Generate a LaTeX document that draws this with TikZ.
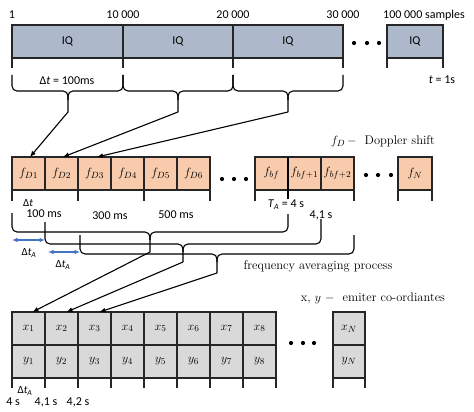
\documentclass[tikz,border=0pt]{standalone}
\usepackage{fontspec}
\setsansfont{Carlito}
\usetikzlibrary{arrows.meta,calc}
\definecolor{iqfill}{HTML}{ADB9CA}
\definecolor{fdfill}{HTML}{F8CBAD}
\definecolor{xyfill}{HTML}{D9D9D9}
\definecolor{lineclr}{HTML}{262626}
\definecolor{blueA}{HTML}{4472C4}
\begin{document}
\begin{tikzpicture}[x=1pt,y=-1pt,
  box/.style={draw=lineclr, line width=1.1pt, inner sep=0pt, outer sep=0pt, anchor=north west},
  iqbox/.style={box, fill=iqfill, minimum height=33pt, font=\sffamily\fontsize{12}{14}\selectfont},
  fdbox/.style={box, fill=fdfill, minimum width=33pt, minimum height=33pt, font=\fontsize{13}{15}\selectfont},
  xybox/.style={box, fill=xyfill, minimum width=33pt, minimum height=33pt, font=\fontsize{13}{15}\selectfont},
  lbl/.style={inner sep=0pt, font=\sffamily\fontsize{12}{14}\selectfont},
  smlbl/.style={inner sep=0pt, font=\sffamily\fontsize{11}{13}\selectfont},
  slbl/.style={inner sep=0pt, font=\fontsize{12.5}{14}\selectfont},
  tick/.style={draw=lineclr, line width=1.1pt},
  brc/.style={draw=black, line width=1.1pt, rounded corners=5pt},
  conn/.style={draw=black, line width=1.1pt, -{Latex[length=6pt,width=5pt]}},
  dimarrow/.style={draw=blueA, line width=1.3pt, {Latex[length=5.5pt,width=4.5pt]}-{Latex[length=5.5pt,width=4.5pt]}},
  bdot/.style={fill=black}
]
\useasboundingbox (0,0) rectangle (474,412);

% ---------- top row: IQ samples ----------
\node[iqbox, minimum width=111pt] (iq1) at (12,25) {IQ};
\node[iqbox, minimum width=110pt] (iq2) at (123,25) {IQ};
\node[iqbox, minimum width=110pt] (iq3) at (233,25) {IQ};
\node[iqbox, minimum width=56pt] (iq4) at (387,25) {IQ};
\foreach \n in {iq1.south west, iq1.south east, iq2.south east, iq3.south east, iq4.south west, iq4.south east}
  \draw[tick] (\n) -- ++(0,10);

\node[lbl] (n1) at (12,15) {1};
\node[lbl] (n2) at (123,15) {10 000};
\node[lbl] (n3) at (233,15) {20 000};
\node[lbl] (n4) at (343,15) {30 000};
\node[lbl] (n5) at (424,15) {100 000 samples};
\node[lbl] (tl) at (442,80) {\textit{t} = 1s};
\node[lbl] (dtl) at (67,81) {Δ\textit{t} = 100ms};

\foreach \x in {354,367,379} \fill[bdot] (\x,43) circle (2.1pt);

% braces of top row
\coordinate (bt1) at (68,112);
\coordinate (bt2) at (178,112);
\coordinate (bt3) at (288,112);
\draw[brc] (12,75) -- (12,91) -- (68,91) -- (bt1);
\draw[brc] (123,75) -- (123,91) -- (68,91) -- (68,100);
\draw[brc] (123,75) -- (123,91) -- (178,91) -- (bt2);
\draw[brc] (233,75) -- (233,91) -- (178,91) -- (178,100);
\draw[brc] (233,75) -- (233,91) -- (288,91) -- (bt3);
\draw[brc] (343,75) -- (343,91) -- (288,91) -- (288,100);

% ---------- middle row: Doppler shifts ----------
\node[fdbox] (fd1) at (12,157) {$f_{D1}$};
\node[fdbox] (fd2) at (45,157) {$f_{D2}$};
\node[fdbox] (fd3) at (78,157) {$f_{D3}$};
\node[fdbox] (fd4) at (111,157) {$f_{D4}$};
\node[fdbox] (fd5) at (144,157) {$f_{D5}$};
\node[fdbox] (fd6) at (177,157) {$f_{D6}$};
\node[fdbox] (fbf) at (255,157) {$f_{bf}$};
\node[fdbox] (fbfa) at (288,157) {$f_{bf+1}$};
\node[fdbox] (fbfb) at (321,157) {$f_{bf+2}$};
\node[fdbox, minimum width=34pt] (fN) at (398,157) {$f_N$};

\foreach \n in {fd1.south west, fd2.south east, fd4.south east, fd6.south east, fbf.south west, fbfb.south east, fN.south west, fN.south east}
  \draw[tick] (\n) -- ++(0,11);
\draw[draw=black, line width=1.7pt] (fbf.north east) -- ++(0,42);

\foreach \x in {222,234,246} \fill[bdot] (\x,179) circle (2.1pt);
\foreach \x in {366,378,391} \fill[bdot] (\x,175) circle (2.1pt);

\draw[conn] (bt1) -- ([xshift=1.5pt]fd1.north);
\draw[conn] (bt2) -- ([xshift=1.5pt]fd2.north);
\draw[conn] (bt3) -- ([xshift=2.5pt]fd3.north);

\node[slbl] (fdl) at (383,141) {$f_D\,-$\ \ Doppler shift};
\node[smlbl] (dtm) at (28,203) {Δ\textit{t}};
\node[lbl] (m1) at (44,214) {100 ms};
\node[lbl] (m3) at (110,216) {300 ms};
\node[lbl] (m5) at (176,215) {500 ms};
\node[lbl] (ta) at (286,205) {\textit{T}\textsubscript{\textit{A}} = 4 s};
\node[lbl] (t41) at (321,215) {4,1 s};

% averaging brackets
\coordinate (ft1) at (150,252);
\coordinate (ft2) at (183,262);
\coordinate (ft3) at (217,273);
\draw[brc] (12,213) -- (12,232) -- (150,232) -- (ft1);
\draw[brc] (288,214) -- (288,232) -- (150,232) -- (150,240);
\draw[brc] (45,222) -- (45,244) -- (183,244) -- (ft2);
\draw[brc] (321,219) -- (321,244) -- (183,244) -- (183,252);
\draw[brc] (80,235) -- (80,254) -- (217,254) -- (ft3);
\draw[brc] (354,235) -- (354,254) -- (217,254) -- (217,262);

\coordinate (a1) at (12,240);
\coordinate (a2) at (45,240);
\coordinate (a3) at (48,252);
\coordinate (a4) at (80,252);
\draw[dimarrow] (a1) -- (a2);
\draw[dimarrow] (a3) -- (a4);
\node[smlbl] (dta1) at (29,253) {Δ\textit{t}\textsubscript{\textit{A}}};
\node[smlbl] (dta2) at (63,265) {Δ\textit{t}\textsubscript{\textit{A}}};

\node[slbl] (fap) at (318,266) {frequency averaging process};

% ---------- bottom row: emitter coordinates ----------
\foreach \i in {1,...,8} {
  \node[xybox] (x\i) at ({12+33*(\i-1)},312) {$x_{\i}$};
  \node[xybox] (y\i) at ({12+33*(\i-1)},345) {$y_{\i}$};
  \draw[tick] (y\i.south west) -- ++(0,10);
}
\draw[tick] (y8.south east) -- ++(0,10);
\node[xybox, minimum width=32pt] (xN) at (333,312) {$x_N$};
\node[xybox, minimum width=32pt] (yN) at (333,345) {$y_N$};
\draw[tick] (yN.south west) -- ++(0,10);
\draw[tick] (yN.south east) -- ++(0,10);
\foreach \x in {291,303,314} \fill[bdot] (\x,343) circle (2.1pt);

\draw[conn] (ft1) -- ([xshift=4pt]x1.north);
\draw[conn] (ft2) -- ([xshift=5pt]x2.north);
\draw[conn] (ft3) -- ([xshift=5pt]x3.north);

\node[slbl] (xyl) at (373,298) {x, $y$\ $-$\ \ emiter co-ordiantes};
\node[smlbl] (dtb) at (25,391) {Δ\textit{t}\textsubscript{\textit{A}}};
\node[lbl] (b0) at (13,402) {4 s};
\node[lbl] (b1) at (46,402) {4,1 s};
\node[lbl] (b2) at (78,402) {4,2 s};
\end{tikzpicture}
\end{document}
